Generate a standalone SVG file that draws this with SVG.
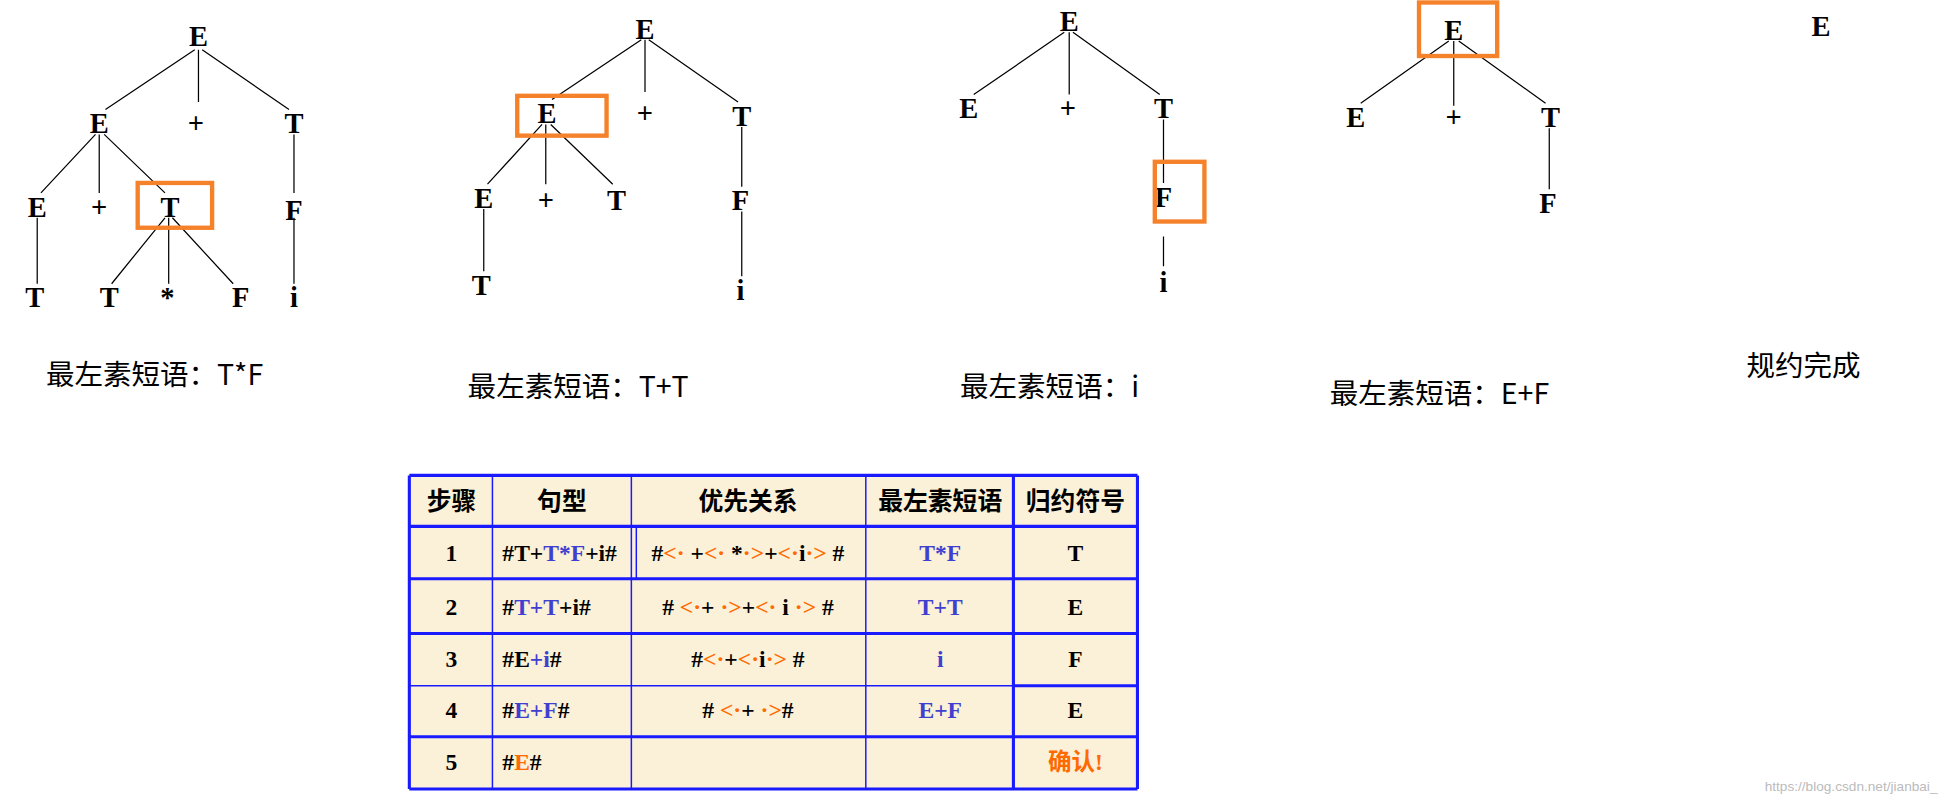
<svg xmlns="http://www.w3.org/2000/svg" width="1945" height="799" viewBox="0 0 1945 799">
<style>
.n{font-family:"Liberation Serif",serif;font-weight:bold;font-size:23px;text-anchor:middle;fill:#000}
.c{font-family:"Noto Sans CJK SC","Liberation Sans",sans-serif;font-size:23px;fill:#000}
.l{stroke:#000;stroke-width:1;fill:none}
.b{stroke:#f5812a;stroke-width:3.5;fill:none}
.g{stroke:#1a1aff;stroke-width:1.2}
.G{stroke:#1a1aff;stroke-width:2.5}
.h{font-family:"Noto Sans CJK SC",serif;font-weight:bold;font-size:20px;text-anchor:middle}
.t{font-family:"Liberation Serif","Noto Sans CJK SC",serif;font-weight:bold;font-size:19px;text-anchor:middle}
.s{font-family:"Liberation Serif",serif;font-weight:bold;font-size:19px}
.bl{fill:#4040d0}.or{fill:#ff6a00}
</style>
<rect width="1945" height="799" fill="#fff"/>
<g transform="scale(1.2404,1.2445)">
<g id="connectors">
<path class="l" d="M157 40L85 88M160 40V82M163 40L233 88M77 108L33 155M80 108V155M84 108L133 155M133 175L90 228M136 175V228M139 175L188 228M237 108V155M237 175V228M30 175V228"/>
<path class="l" d="M517 32L445 80M520 32V74M523 32L595 82M437 100L393 148M440 100V148M444 100L494 148M598 102V150M598 170V222M390 168V218"/>
<path class="l" d="M858 26L785 76M862 26V76M865 26L935 76M938 96V147M938 190V214"/>
<path class="l" d="M1168 33L1097 83M1172 33V85M1176 33L1246 83M1249 103V152"/>
</g>
<g id="tree1">
<text class="n" x="160" y="37">E</text><text class="n" x="80" y="107">E</text><text class="n" x="158" y="107">+</text><text class="n" x="237" y="107">T</text>
<text class="n" x="30" y="174">E</text><text class="n" x="80" y="174">+</text><text class="n" x="137" y="174">T</text><text class="n" x="237" y="177">F</text>
<text class="n" x="28" y="247">T</text><text class="n" x="88" y="247">T</text><text class="n" x="135" y="247">*</text><text class="n" x="194" y="247">F</text><text class="n" x="237" y="247">i</text>
<rect class="b" x="111" y="147" width="60" height="36"/>
<text class="c" x="37" y="309">最左素短语：T*F</text>
</g>
<g id="tree2">
<text class="n" x="520" y="31">E</text><text class="n" x="441" y="99">E</text><text class="n" x="520" y="99">+</text><text class="n" x="598" y="101">T</text>
<text class="n" x="390" y="167">E</text><text class="n" x="440" y="169">+</text><text class="n" x="497" y="169">T</text><text class="n" x="597" y="169">F</text>
<text class="n" x="388" y="237">T</text><text class="n" x="597" y="241">i</text>
<rect class="b" x="417" y="77" width="72" height="32"/>
<text class="c" x="377" y="319">最左素短语：T+T</text>
</g>
<g id="tree3">
<text class="n" x="862" y="25">E</text><text class="n" x="781" y="95">E</text><text class="n" x="861" y="95">+</text><text class="n" x="938" y="95">T</text>
<text class="n" x="938" y="166">F</text><text class="n" x="938" y="235">i</text>
<rect class="b" x="931" y="130" width="40" height="48"/>
<text class="c" x="774" y="319">最左素短语：i</text>
</g>
<g id="tree4">
<text class="n" x="1172" y="32">E</text><text class="n" x="1093" y="102">E</text><text class="n" x="1172" y="102">+</text><text class="n" x="1250" y="102">T</text>
<text class="n" x="1248" y="171">F</text>
<rect class="b" x="1144" y="2" width="63" height="43"/>
<text class="c" x="1072" y="325">最左素短语：E+F</text>
</g>
<g id="tree5">
<text class="n" x="1468" y="29">E</text>
<text class="c" x="1408" y="302">规约完成</text>
</g>
<g id="table">
<rect x="330" y="382" width="587" height="252" fill="#fbf0d8"/>
<path class="g" d="M330 551H817M397 382V634M509 382V634M698 382V634M397 465H698M397 423H698M513 423V465"/>
<path class="G" d="M330 382H917M330 423H917M330 465H917M330 509H917M817 551H917M330 592H917M330 634H917M817 382V634M917 382V634M330 382V634"/>
<text class="h" x="364" y="410">步骤</text><text class="h" x="453" y="410">句型</text><text class="h" x="603" y="410">优先关系</text><text class="h" x="758" y="410">最左素短语</text><text class="h" x="867" y="410">归约符号</text>
<text class="t" x="364" y="451">1</text><text class="t" x="364" y="494">2</text><text class="t" x="364" y="536">3</text><text class="t" x="364" y="577">4</text><text class="t" x="364" y="619">5</text>
<text class="s" x="405" y="451">#T+<tspan class="bl">T*F</tspan>+i#</text>
<text class="s" x="405" y="494">#<tspan class="bl">T+T</tspan>+i#</text>
<text class="s" x="405" y="536">#E<tspan class="bl">+i</tspan>#</text>
<text class="s" x="405" y="577">#<tspan class="bl">E+F</tspan>#</text>
<text class="s" x="405" y="619">#<tspan class="or">E</tspan>#</text>
<text class="t" x="603" y="451">#<tspan class="or">&lt;·</tspan> +<tspan class="or">&lt;·</tspan> *<tspan class="or">·&gt;</tspan>+<tspan class="or">&lt;·</tspan>i<tspan class="or">·&gt;</tspan> #</text>
<text class="t" x="603" y="494"># <tspan class="or">&lt;·</tspan>+ <tspan class="or">·&gt;</tspan>+<tspan class="or">&lt;·</tspan> i <tspan class="or">·&gt;</tspan> #</text>
<text class="t" x="603" y="536">#<tspan class="or">&lt;·</tspan>+<tspan class="or">&lt;·</tspan>i<tspan class="or">·&gt;</tspan> #</text>
<text class="t" x="603" y="577"># <tspan class="or">&lt;·</tspan>+ <tspan class="or">·&gt;</tspan>#</text>
<text class="t bl" x="758" y="451">T*F</text><text class="t bl" x="758" y="494">T+T</text><text class="t bl" x="758" y="536">i</text><text class="t bl" x="758" y="577">E+F</text>
<text class="t" x="867" y="451">T</text><text class="t" x="867" y="494">E</text><text class="t" x="867" y="536">F</text><text class="t" x="867" y="577">E</text><text class="t or" x="867" y="619">确认!</text>
</g>
<text x="1562" y="636" font-family="Liberation Sans,sans-serif" font-size="11" fill="#bbb" text-anchor="end">https://blog.csdn.net/jianbai_</text>
</g>
</svg>
